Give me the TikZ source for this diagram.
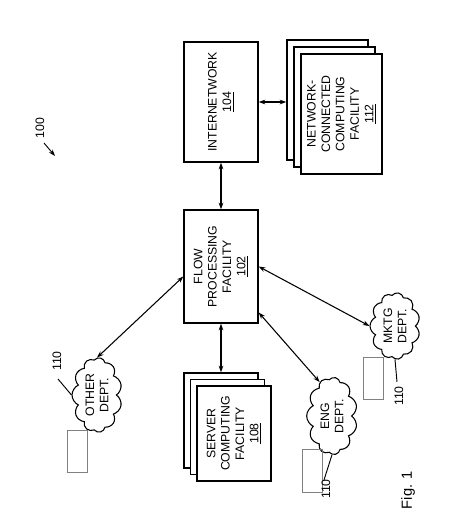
\documentclass[tikz,border=0pt]{standalone}
\usepackage{fontspec}
\setmainfont{Liberation Sans}
\usetikzlibrary{shapes.symbols,arrows.meta,calc}

\tikzset{
  box/.style={draw, line width=1pt, fill=white, rotate=90, align=center, inner sep=0pt,
    font=\fontsize{9.2}{10.8}\selectfont},
  dept/.style={cloud, cloud puffs=11, cloud puff arc=130, cloud ignores aspect, draw,
    line width=0.8pt, rotate=90, align=center, inner sep=0pt, font=\fontsize{9.2}{10.8}\selectfont},
  tag/.style={draw=gray, line width=0.6pt, rotate=90, minimum width=32pt, minimum height=15pt, inner sep=0pt},
  link/.style={line width=0.8pt, {Stealth[length=5pt,width=3.5pt]}-{Stealth[length=5pt,width=3.5pt]}},
  lead/.style={line width=0.7pt},
  num/.style={rotate=90, font=\fontsize{9.2}{10.8}\selectfont, inner sep=1pt}
}

\begin{document}
\begin{tikzpicture}[x=0.75pt,y=-0.75pt]
%\draw[step=50,gray,very thin] (0,0) grid (474,532);
\useasboundingbox (0,0) rectangle (474,532);

% boxes
\node[box, minimum width=90pt, minimum height=55.5pt] (int) at (221,102) {INTERNETWORK\\\underline{104}};
\node[box, minimum width=84.75pt, minimum height=55.5pt] (flow) at (221,266.5) {FLOW\\PROCESSING\\FACILITY\\\underline{102}};

% network-connected stack
\node[box, minimum width=90pt, minimum height=60.75pt] (netback) at (327.5,100) {};
\node[box, minimum width=90pt, minimum height=60.75pt] (netmid) at (334.5,107) {};
\node[box, minimum width=90pt, minimum height=60.75pt] (net) at (341.5,114) {NETWORK-\\CONNECTED\\COMPUTING\\FACILITY\\\underline{112}};

% server stack
\node[box, minimum width=71.25pt, minimum height=55.5pt] (srvback) at (221,420.5) {};
\node[box, minimum width=71.25pt, minimum height=55.5pt] (srvmid) at (227.5,427) {};
\node[box, minimum width=71.25pt, minimum height=55.5pt] (srv) at (234,433.5) {SERVER\\COMPUTING\\FACILITY\\\underline{108}};

% departments
\node[dept, minimum width=56pt, minimum height=37.5pt] (other) at (97,395) {OTHER\\DEPT.};
\node[dept, minimum width=58pt, minimum height=38pt] (eng) at (332,416) {ENG\\DEPT.};
\node[dept, minimum width=50pt, minimum height=37.5pt] (mktg) at (395,326) {MKTG\\DEPT.};

\node[tag] (othertag) at (77,451.5) {};
\node[tag] (engtag) at (312,471) {};
\node[tag] (mktgtag) at (373,378.5) {};

% connections
\draw[link] (int.west) -- (flow.east);
\draw[link] (int.south) -- (int.south -| netback.north);
\draw[link] (flow.west) -- (flow.west |- srvback.east);
\draw[link] ($(flow.north)+(0,10)$) -- (other.east);
\draw[link] (flow.south) -- (mktg.north);
\draw[link] ($(flow.south)+(0,46)$) -- (eng.20);

% reference numerals
\coordinate (otherend) at (58,379);
\node[num] (othernum) at (57,361) {110};
\draw[lead] (other.north) -- (otherend);
\coordinate (engend) at (324,480);
\node[num] (engnum) at (326,489) {110};
\draw[lead] (eng.west) -- (engend);
\coordinate (mktgend) at (397,382);
\node[num] (mktgnum) at (399,396) {110};
\draw[lead] (mktg.west) -- (mktgend);

\node[num] (fignum) at (40,128) {100};
\coordinate (figtail) at (44,143);
\coordinate (fighead) at (55,156);
\draw[lead, -{Stealth[length=5pt,width=3.5pt]}] (figtail) -- (fighead);

\node[rotate=90, font=\fontsize{11}{13}\selectfont] (figlabel) at (408,490) {Fig. 1};
\end{tikzpicture}
\end{document}
